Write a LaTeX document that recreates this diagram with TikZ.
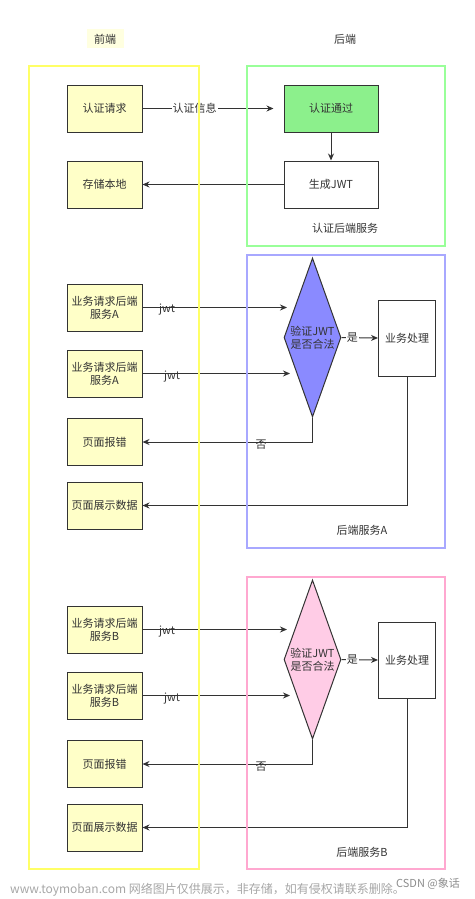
\documentclass[tikz,border=0pt]{standalone}
\usepackage{fontspec}
\setmainfont{Noto Sans CJK SC}
\usetikzlibrary{arrows.meta,shapes.geometric}

\definecolor{frontline}{HTML}{FFFF66}
\definecolor{frontlabel}{HTML}{FFFFE0}
\definecolor{boxfill}{HTML}{FFFFC8}
\definecolor{authline}{HTML}{99FF99}
\definecolor{passfill}{HTML}{8CF08C}
\definecolor{svcAline}{HTML}{A8A8FF}
\definecolor{chkAfill}{HTML}{8A8AFF}
\definecolor{svcBline}{HTML}{FFA8D0}
\definecolor{chkBfill}{HTML}{FFCCE6}
\definecolor{inkgray}{HTML}{333333}

\begin{document}
\begin{tikzpicture}[x=1pt,y=-1pt,
  font=\fontsize{11}{13}\selectfont,
  box/.style={draw=inkgray, line width=1pt, minimum width=75pt, minimum height=47pt, inner sep=0pt, align=center, text=inkgray},
  wbox/.style={box, minimum width=94pt},
  proc/.style={box, minimum width=57pt, minimum height=76pt},
  check/.style={draw=inkgray, line width=1pt, shape=diamond, minimum width=57pt, minimum height=159pt, inner sep=0pt},
  arr/.style={draw=inkgray, line width=1pt, -{Stealth[length=7pt,width=6pt]}},
  frame/.style={line width=1.3pt},
  lbl/.style={text=inkgray, inner sep=1pt}]

\useasboundingbox (0,0) rectangle (474,899);

% 1. Column titles
\node[lbl, fill=frontlabel, minimum width=37pt, minimum height=19pt] (front) at (105,39) {前端};
\node[lbl] (back) at (345,39) {后端};

% 2. Authentication service
\node[box, fill=boxfill] (auth) at (104.5,108.5) {认证请求};
\node[box, fill=boxfill] (store) at (104.5,184.5) {存储本地};
\node[wbox, fill=passfill] (pass) at (331,108.5) {认证通过};
\node[wbox, fill=white] (jwtgen) at (331,184.5) {生成JWT};
\node[lbl] (authsvc) at (345,228) {认证后端服务};

\draw[arr, shorten >=10pt] (auth.east) -- node[lbl, fill=white, pos=0.37] {认证信息} (pass.west);
\draw[arr] (pass.south) -- (jwtgen.north);
\draw[arr] (jwtgen.west) -- (store.east);

% 3. Backend service A
\node[box, fill=boxfill] (qA1) at (104.5,307.5) {业务请求后端\\服务A};
\node[box, fill=boxfill] (qA2) at (104.5,373.5) {业务请求后端\\服务A};
\node[box, fill=boxfill] (errA) at (104.5,442) {页面报错};
\node[box, fill=boxfill] (showA) at (104.5,505.5) {页面展示数据};
\node[check, fill=chkAfill] (chkA) at (312.5,337.5) {};
\node[lbl, align=center] at (chkA) {验证JWT\\是否合法};
\node[proc, fill=white] (procA) at (407,338) {业务处理};
\node[lbl] (svcAname) at (362,530) {后端服务A};

\coordinate (inA1) at (287,307.5);
\coordinate (inA2) at (290,373.5);

\draw[arr] (qA1.east) -- (inA1);
\draw[arr] (qA2.east) -- (inA2);
\node[lbl] at (167,310) {jwt};
\node[lbl] at (172,377) {jwt};
\draw[arr] (chkA.east) -- node[lbl, fill=white, pos=0.3] {是} (procA.west);
\draw[arr] (chkA.south) |- (errA.east);
\node[lbl] at (261,445) {否};
\draw[arr] (procA.south) |- (showA.east);

% 4. Backend service B
\node[box, fill=boxfill] (qB1) at (104.5,629.5) {业务请求后端\\服务B};
\node[box, fill=boxfill] (qB2) at (104.5,695.5) {业务请求后端\\服务B};
\node[box, fill=boxfill] (errB) at (104.5,764) {页面报错};
\node[box, fill=boxfill] (showB) at (104.5,827.5) {页面展示数据};
\node[check, fill=chkBfill] (chkB) at (312.5,659.5) {};
\node[lbl, align=center] at (chkB) {验证JWT\\是否合法};
\node[proc, fill=white] (procB) at (407,660) {业务处理};
\node[lbl] (svcBname) at (362,852) {后端服务B};

\coordinate (inB1) at (287,629.5);
\coordinate (inB2) at (290,695.5);

\draw[arr] (qB1.east) -- (inB1);
\draw[arr] (qB2.east) -- (inB2);
\node[lbl] at (167,632) {jwt};
\node[lbl] at (172,699) {jwt};
\draw[arr] (chkB.east) -- node[lbl, fill=white, pos=0.3] {是} (procB.west);
\draw[arr] (chkB.south) |- (errB.east);
\node[lbl] at (261,767) {否};
\draw[arr] (procB.south) |- (showB.east);

% 5. Frames round the columns and services
\draw[frame, frontline] (29,66) rectangle (199,869);
\draw[frame, authline] (247,66) rectangle (445,246);
\draw[frame, svcAline] (247,255) rectangle (445,548);
\draw[frame, svcBline] (247,577) rectangle (445,869);

% 6. Watermark
\node[anchor=west, text=black!35, inner sep=0pt, font=\fontsize{12}{14}\selectfont] (mark) at (10,890) {www.toymoban.com 网络图片仅供展示，非存储，如有侵权请联系删除。};
\node[anchor=west, text=black!45, inner sep=0pt] (csdn) at (396,884) {CSDN @象话};

\end{tikzpicture}
\end{document}
